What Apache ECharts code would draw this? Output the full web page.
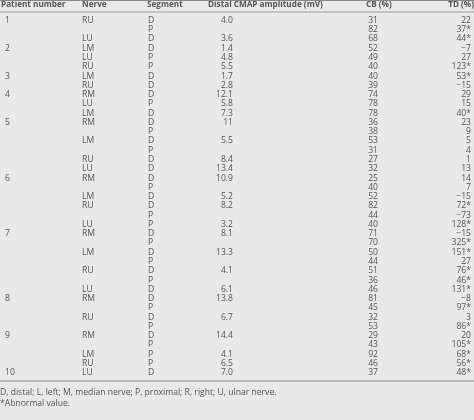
<!DOCTYPE html>
<html><head><meta charset="utf-8">
<script src="https://cdn.jsdelivr.net/npm/echarts@6/dist/echarts.min.js"></script>
<style>html,body{margin:0;padding:0;background:#e9e9e9}#main{width:474px;height:420px}</style>
</head><body><div id="main"></div>
<script>
var headers = ['Patient number', 'Nerve', 'Segment', 'Distal CMAP amplitude (mV)', 'CB (%)', 'TD (%)'];
var patient = ['1','','','2','','','3','','4','','','5','','','','','','6','','','','','','7','','','','','','','8','','','','9','','','','10'];
var nerve = ['RU','','LU','LM','LU','RU','LM','RU','RM','LU','LM','RM','','LM','','RU','LU','RM','','LM','RU','','LU','RM','','LM','','RU','','LU','RM','','RU','','RM','','LM','RU','LU'];
var segment = ['D','P','D','D','P','P','D','D','D','P','D','D','P','D','P','D','D','D','P','D','D','P','P','D','P','D','P','D','P','D','D','P','D','P','D','P','P','P','D'];
var cmap = ['4.0','','3.6','1.4','4.8','5.5','1.7','2.8','12.1','5.8','7.3','11','','5.5','','8.4','13.4','10.9','','5.2','8.2','','3.2','8.1','','13.3','','4.1','','6.1','13.8','','6.7','','14.4','','4.1','6.5','7.0'];
var cb = [31,82,68,52,49,40,40,39,74,78,78,36,38,53,31,27,32,25,40,52,82,44,40,71,70,50,44,51,36,46,81,45,32,53,29,43,92,46,37];
var td = ['22','37*','44*','\u22127','27','123*','53*','\u221215','29','15','40*','23','9','5','4','1','13','14','7','\u221215','72*','\u221273','128*','\u221215','325*','151*','27','76*','46*','131*','\u22128','97*','3','86*','20','105*','68*','56*','48*'];
var notes = ['D, distal; L, left; M, median nerve; P, proximal; R, right; U, ulnar nerve.', '*Abnormal value.'];

var chart = echarts.init(document.getElementById('main'));
var font = '8.6px "Open Sans", sans-serif';
var color = '#555';
var els = [];
function txt(x, y, s, align, f) {
  els.push({type: 'text', x: x, y: y, style: {text: s, font: f || font, fill: color, textAlign: align || 'left', textVerticalAlign: 'middle'}});
}
function line(y, w) {
  els.push({type: 'line', shape: {x1: 0, y1: y, x2: 474, y2: y}, style: {stroke: '#888', lineWidth: w}});
}
var hf = 'bold 8.2px "Open Sans", sans-serif';
var hx = [1, 82, 147, 208, 366, 474];
headers.forEach(function (h, i) { txt(hx[i], 5, h, i === 5 ? 'right' : 'left', hf); });
line(0.5, 1);
line(12, 0.8);
for (var i = 0; i < cb.length; i++) {
  var y = 20.5 + i * 9.27;
  txt(5, y, patient[i]);
  txt(82, y, nerve[i]);
  txt(148, y, segment[i]);
  txt(233, y, cmap[i], 'right');
  txt(378, y, String(cb[i]), 'right');
  txt(471, y, td[i], 'right');
}
line(381, 1);
txt(0, 393, notes[0]);
txt(0, 404, notes[1]);
chart.setOption({backgroundColor: '#e9e9e9', graphic: {elements: els}});
</script></body></html>
